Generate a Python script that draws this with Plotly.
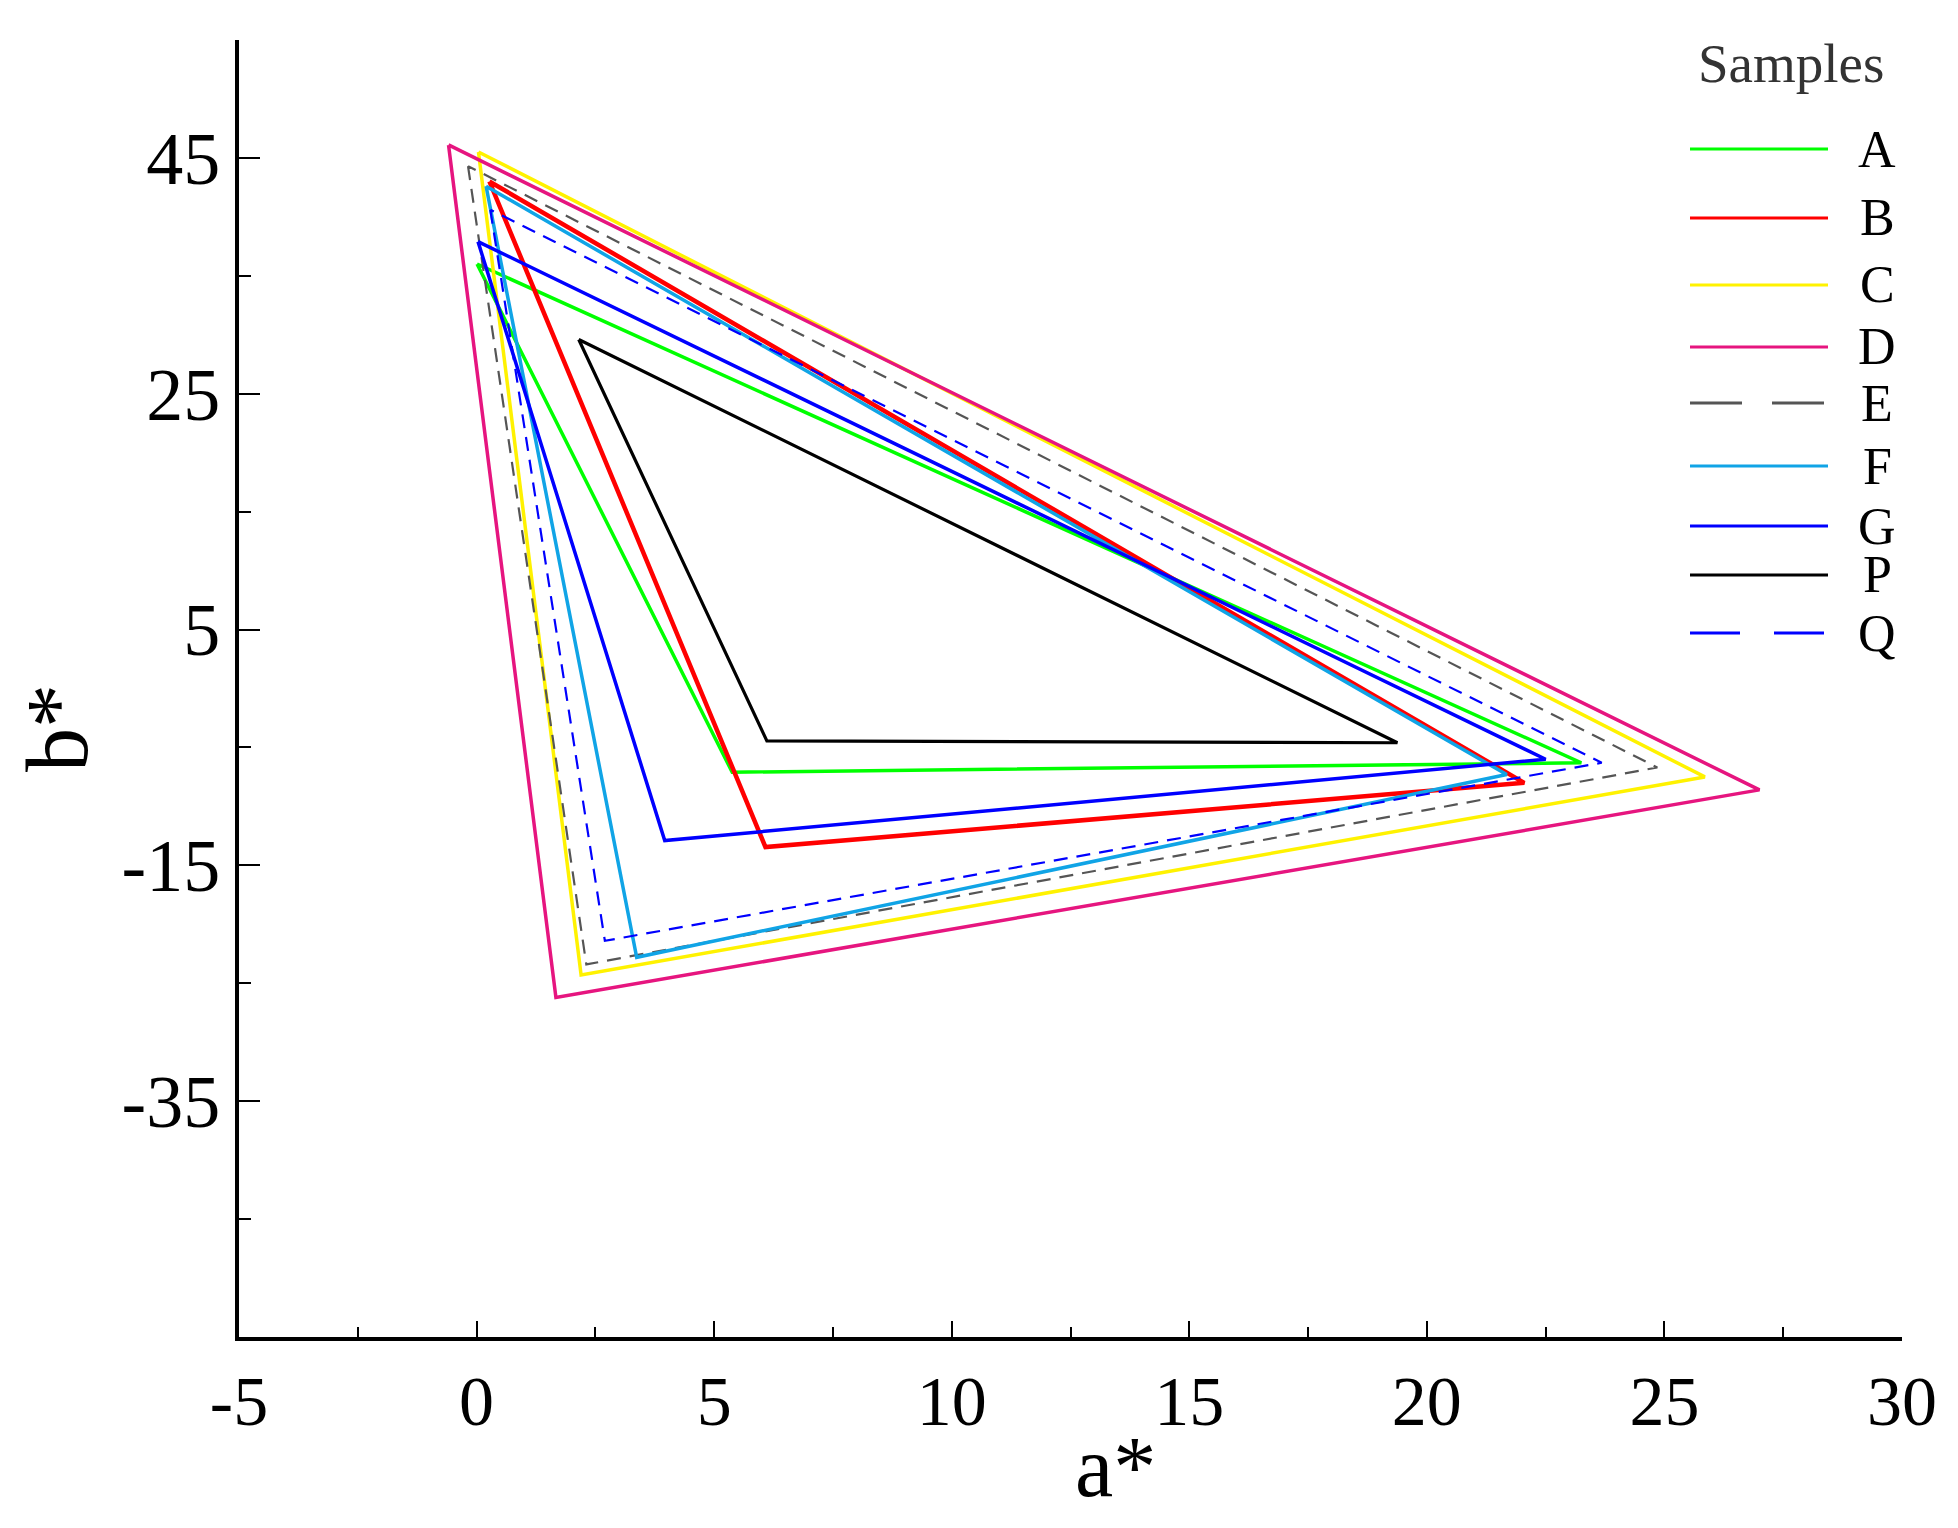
import plotly.graph_objects as go

# ---------------- data (vertices of each colour-gamut triangle) ----------------
samples = ["A", "B", "C", "D", "E", "F", "G", "P", "Q"]
a_top = [0.01, 0.27, 0.04, -0.59, -0.18, 0.20, 0.03, 2.15, 0.29]
b_top = [36.0, 43.0, 45.5, 46.1, 44.3, 42.6, 37.9, 29.6, 40.6]
a_bottom = [5.38, 6.08, 2.20, 1.67, 2.31, 3.37, 3.96, 6.11, 2.70]
b_bottom = [-7.1, -13.45, -24.3, -26.2, -23.4, -22.8, -12.9, -4.45, -21.4]
a_right = [23.25, 22.05, 25.85, 27.0, 24.85, 21.68, 22.5, 19.38, 23.68]
b_right = [-6.3, -8.0, -7.5, -8.6, -6.7, -7.3, -6.0, -4.6, -6.3]

x_ticks = [-5, 0, 5, 10, 15, 20, 25, 30]
y_ticks = [45, 25, 5, -15, -35]

# ---------------- styles ----------------
colors = {"A": "#00FF00", "B": "#FF0000", "C": "#FFF200", "D": "#E6157F",
          "E": "#555555", "F": "#10A4E6", "G": "#0000FF", "P": "#000000",
          "Q": "#0000FF"}
widths = {"A": 3.5, "B": 4.5, "C": 3.5, "D": 3.5, "E": 2.2, "F": 3.5,
          "G": 3.5, "P": 3.2, "Q": 2.2}
dashes = {"E": "14px,9px", "Q": "14px,9px"}
legend_dashes = {"E": "52px,30px", "Q": "50px,34px"}

FONT = "Liberation Serif"
PAGE_OFF = 8                      # default body margin of the html page
W, H = 1958 - 2 * PAGE_OFF, 1528 - 2 * PAGE_OFF
# plot area in page pixels
PL, PR, PT, PB = 239, 1902, 40, 1337
L, T = PL - PAGE_OFF, PT - PAGE_OFF
R, B = W - (PR - PAGE_OFF), H - (PB - PAGE_OFF)
PW, PH = PR - PL, PB - PT


def px_to_paper(X, Y):
    return (X - PL) / PW, (PB - Y) / PH


fig = go.Figure()
for i, s in enumerate(samples):
    xs = [a_top[i], a_bottom[i], a_right[i], a_top[i]]
    ys = [b_top[i], b_bottom[i], b_right[i], b_top[i]]
    fig.add_trace(go.Scatter(
        x=xs, y=ys, mode="lines", name=s, showlegend=False,
        line=dict(color=colors[s], width=widths[s],
                  dash=dashes.get(s, "solid")),
    ))

# ---------------- custom legend ----------------
shapes = []
annotations = []
leg_y = [149, 218, 285, 347, 403, 466, 526, 575, 633]
for s, yy in zip(samples, leg_y):
    x0, y0 = px_to_paper(1690, yy)
    x1, _ = px_to_paper(1828, yy)
    shapes.append(dict(type="line", xref="paper", yref="paper",
                       x0=x0, x1=x1, y0=y0, y1=y0,
                       line=dict(color=colors[s], width=3,
                                 dash=legend_dashes.get(s, "solid"))))
    lx, ly = px_to_paper(1877, yy)
    annotations.append(dict(text=s, xref="paper", yref="paper", x=lx, y=ly,
                            xanchor="center", yanchor="middle", showarrow=False,
                            font=dict(family=FONT, size=52, color="black")))

tx, ty = px_to_paper(1791, 63)
annotations.append(dict(text="Samples", xref="paper", yref="paper", x=tx, y=ty,
                        xanchor="center", yanchor="middle", showarrow=False,
                        font=dict(family=FONT, size=55, color="#333333")))

# axis titles
ax, ay = px_to_paper(1115, 1517)
annotations.append(dict(text="a*", xref="paper", yref="paper", x=ax, y=ay,
                        xanchor="center", yanchor="bottom", showarrow=False,
                        font=dict(family=FONT, size=86, color="black")))
bx, by = px_to_paper(58, 728)
annotations.append(dict(text="b*", xref="paper", yref="paper", x=bx, y=by,
                        xanchor="center", yanchor="middle", showarrow=False,
                        textangle=-90,
                        font=dict(family=FONT, size=88, color="black")))

fig.update_layout(
    width=W, height=H,
    margin=dict(l=L, r=R, t=T, b=B, pad=0),
    paper_bgcolor="white", plot_bgcolor="white",
    font=dict(family=FONT, color="black"),
    shapes=shapes, annotations=annotations,
    showlegend=False,
)
fig.update_xaxes(
    range=[-5, 30], tickvals=x_ticks, ticktext=[str(v) for v in x_ticks],
    ticks="inside", ticklen=16, tickwidth=2, tickcolor="black",
    showline=True, linewidth=4, linecolor="black", mirror=False,
    showgrid=False, zeroline=False,
    tickfont=dict(family=FONT, size=70, color="black"),
    minor=dict(ticks="inside", ticklen=10, tickwidth=2, tickcolor="black",
               dtick=2.5, tick0=-5, showgrid=False),
)
fig.update_yaxes(
    range=[-55, 55], tickvals=y_ticks, ticktext=[str(v) for v in y_ticks],
    ticks="inside", ticklen=21, tickwidth=2, tickcolor="black",
    showline=True, linewidth=4, linecolor="black", mirror=False,
    showgrid=False, zeroline=False,
    tickfont=dict(family=FONT, size=74, color="black"),
    minor=dict(ticks="inside", ticklen=12, tickwidth=2, tickcolor="black",
               dtick=10, tick0=-55, showgrid=False),
)

fig.write_html("out.html")
